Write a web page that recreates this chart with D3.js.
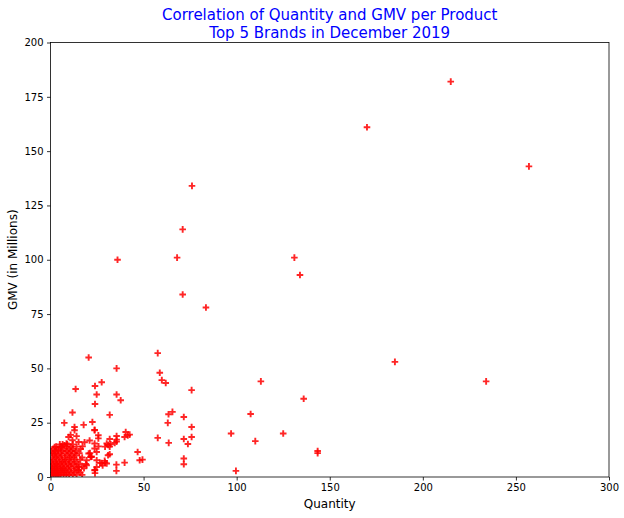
<!DOCTYPE html>
<html>
<head>
<meta charset="utf-8">
<script src="https://cdn.jsdelivr.net/npm/d3@7"></script>
<style>
  body { margin: 0; background: #fff; }
  text { font-family: "DejaVu Sans", sans-serif; }
</style>
</head>
<body>
<script>
// quantity sold and GMV (millions) per product
var quantity = [
  215, 170, 257, 76, 71, 131, 68, 36, 134, 71, 83.5,
  185, 234, 113, 136, 107.5, 97, 125, 110, 143.5, 143.5, 99.6,
  57.6, 58.7, 59.8, 61.9, 75.8, 63.4, 65.5, 71.6, 63, 75.8, 57.6, 71.6, 75.8, 63.5, 73.8, 71.6, 71.6, 46.8, 47.9, 49.4,
  20.5, 35.5, 13.5, 23.9, 27.5, 24.8, 35.5, 37.7, 23.9, 11.8, 7.4, 12.9, 17.8, 22.5, 31.8, 23.7, 25.7, 25.7, 35.5, 35.5,
  40.4, 41.5, 42.5, 31.8, 31.8, 30.9, 35.4, 35.4, 39.8,
  12.9, 23.7, 10.8, 9.7, 14, 39.8, 11.8, 15.1, 18.3, 8.6, 7.5, 17.2, 16.2, 23.7, 25.8, 30.2, 32.3, 34.5, 35.5,
  23.7, 24.8, 31.8, 2.2, 4.3, 2.2, 5.4, 6.5, 20.5, 21.5, 24.8, 24.8, 23.7, 29.1, 30.2, 28, 19.4, 19.4, 15.1, 15.1,
  29.3, 31, 21, 22, 26.6, 27.5, 29.3, 23.9, 23.9, 21.2, 22,
  0.5, 1.5, 2.5, 3.5, 4.5, 5.5, 7, 8.5, 10, 12, 14, 17,
  1, 2, 3, 4, 6, 7.5, 9, 11, 13, 16,
  0.5, 2, 3.5, 5, 6.5, 8, 10, 12.5, 15,
  1, 2.5, 4, 5.5, 7, 9, 11, 14, 18,
  0.5, 2, 3.5, 6, 8, 10, 13, 17,
  1, 3, 5, 7, 9.5, 12, 15, 19,
  0.5, 2.5, 4.5, 6.5, 8.5, 11, 14,
  1.5, 3.5, 6, 8, 10, 13, 16,
  1, 3, 5, 7.5, 10.5, 12.5, 17,
  2, 4, 6, 9, 11.5, 14,
  1, 3, 5.5, 8, 10, 13, 15.5,
  0.5, 2.5, 6, 9, 11, 13.5,
  1.5, 4, 7, 10, 12,
  3, 6, 8.5, 11, 14,
  5, 9, 12
];
var gmv = [
  182, 161, 143, 134, 114, 101, 101, 100, 93, 84, 78,
  53, 44, 44, 36, 29, 20, 20, 16.5, 12, 11, 2.8,
  57, 48, 44.6, 43.3, 40, 28.9, 30, 27.6, 24.9, 23, 18, 17.5, 18.4, 15.7, 15.2, 8.5, 5.9, 11.5, 7.7, 8,
  55, 50, 40.5, 41.9, 43.6, 38, 38, 35.3, 33.6, 29.7, 24.9, 23, 24, 25.3, 28.6, 21.7, 19.2, 17.8, 18.9, 17.2,
  20.7, 19.1, 19.5, 17.5, 14, 10, 5.7, 2.8, 6.6,
  21.5, 21.5, 19.4, 18.4, 18.8, 18.4, 16.9, 16.1, 16, 15.4, 14.6, 14.1, 12.9, 15.4, 14.1, 15.4, 15.1, 15.7, 16.3,
  13.1, 11.5, 10.5, 13.8, 12.3, 10.8, 13.8, 15.1, 10.8, 9.2, 7.7, 4.6, 3.1, 7.4, 6.2, 5.3, 7.7, 5.4, 4.6, 3.1,
  14, 14.7, 16.8, 9.3, 6.5, 6.4, 6.6, 3.2, 1.8, 11, 9.3,
  1, 1, 1, 1, 1, 1, 1, 1, 1, 1, 1, 1,
  2, 2, 2, 2, 2, 2, 2, 2, 2, 2,
  3, 3, 3, 3, 3, 3, 3, 3, 3,
  4, 4, 4, 4, 4, 4, 4, 4, 4,
  5, 5, 5, 5, 5, 5, 5, 5,
  6, 6, 6, 6, 6, 6, 6, 6,
  7, 7, 7, 7, 7, 7, 7,
  8, 8, 8, 8, 8, 8, 8,
  9, 9, 9, 9, 9, 9, 9,
  10, 10, 10, 10, 10, 10,
  11, 11, 11, 11, 11, 11, 11,
  12, 12, 12, 12, 12, 12,
  13, 13, 13, 13, 13,
  14, 14, 14, 14, 14,
  15, 15, 15
];
var xTicks = [0, 50, 100, 150, 200, 250, 300];
var yTicks = [0, 25, 50, 75, 100, 125, 150, 175, 200];
var titleLines = ["Correlation of Quantity and GMV per Product", "Top 5 Brands in December 2019"];

var points = [];
for (let i = 0; i < quantity.length; i++) {
  points.push({ q: quantity[i], g: gmv[i] });
}

var W = 624, H = 518;
// plot area edges (window.top is read-only, so own names)
var pLeft = 50.5, pRight = 609, pTop = 42.5, pBottom = 477;

let svg = d3.select('body').append('svg')
  .attr('width', W)
  .attr('height', H);

var x = d3.scaleLinear().domain([0, 300]).range([pLeft, pRight]);
var y = d3.scaleLinear().domain([0, 200]).range([pBottom, pTop]);

svg.append('clipPath').attr('id', 'plotclip')
  .append('rect')
  .attr('x', pLeft).attr('y', pTop)
  .attr('width', pRight - pLeft).attr('height', pBottom - pTop);

svg.append('g')
  .attr('clip-path', 'url(#plotclip)')
  .selectAll('path')
  .data(points)
  .enter()
  .append('path')
  .attr('d', 'M-3.3,0H3.3M0,-3.3V3.3')
  .attr('transform', function (d) { return 'translate(' + x(d.q) + ',' + y(d.g) + ')'; })
  .attr('stroke', 'red')
  .attr('stroke-opacity', 0.85)
  .attr('stroke-width', 1.9)
  .attr('fill', 'none');

var xAxis = svg.append('g')
  .attr('transform', 'translate(0,' + pBottom + ')')
  .call(d3.axisBottom(x).tickValues(xTicks).tickSize(3.5).tickSizeOuter(0).tickPadding(3.5));
var yAxis = svg.append('g')
  .attr('transform', 'translate(' + pLeft + ',0)')
  .call(d3.axisLeft(y).tickValues(yTicks).tickSize(3.5).tickSizeOuter(0).tickPadding(3.5));

[xAxis, yAxis].forEach(function (a) {
  a.select('.domain').remove();
  a.selectAll('line').attr('stroke', '#000').attr('stroke-width', 0.8);
  a.selectAll('text')
    .attr('fill', '#000')
    .style('font-family', '"DejaVu Sans", sans-serif')
    .style('font-size', '10px');
});

svg.append('rect')
  .attr('x', pLeft).attr('y', pTop)
  .attr('width', pRight - pLeft).attr('height', pBottom - pTop)
  .attr('fill', 'none')
  .attr('stroke', '#000')
  .attr('stroke-width', 0.8);

svg.append('text')
  .attr('x', (pLeft + pRight) / 2).attr('y', 508)
  .attr('text-anchor', 'middle')
  .style('font-size', '12px')
  .text('Quantity');

svg.append('text')
  .attr('transform', 'translate(17,' + (pTop + pBottom) / 2 + ') rotate(-90)')
  .attr('text-anchor', 'middle')
  .style('font-size', '12px')
  .text('GMV (in Millions)');

svg.selectAll('.title')
  .data(titleLines)
  .enter()
  .append('text')
  .attr('class', 'title')
  .attr('x', (pLeft + pRight) / 2)
  .attr('y', function (d, i) { return 19.5 + i * 18; })
  .attr('text-anchor', 'middle')
  .attr('fill', 'blue')
  .style('font-size', '15px')
  .text(function (d) { return d; });
</script>
</body>
</html>
